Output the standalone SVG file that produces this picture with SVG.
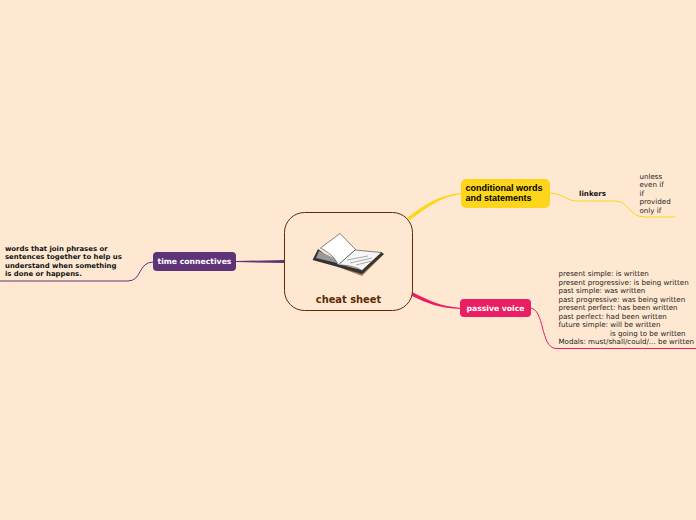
<svg xmlns="http://www.w3.org/2000/svg" width="696" height="520" viewBox="0 0 696 520">
<style>
text{font-family:"DejaVu Sans","Liberation Sans",sans-serif}
.n{font-size:7.1px;fill:#222}
.b{font-size:6.9px;font-weight:bold;fill:#111}
.t{font-size:7.700px;font-weight:bold;fill:#fff}
.y{font-family:"Liberation Sans",sans-serif;font-size:9px;font-weight:bold;fill:#000}
.c{fill:none;stroke-linecap:round}
</style>
<rect width="696" height="520" fill="#ffe8d1"/>
<g id="connectors">
<path d="M407 218C425 204 440 195 461 193L461 194C442 197 428 206 410 220Z" fill="#fdd51b"/>
<path class="c" d="M550 193C565 194 565 201 578 201L615 201C630 201 628 217 645 217L675 217" stroke="#fdd51b" stroke-width="1"/>
<path d="M412 292C430 301 440 306 461 308L461 309C440 308 428 304 412 296Z" fill="#e91e63"/>
<path class="c" d="M530 308C545 308 540 348 556 348.500L696 348.500" stroke="#e91e63" stroke-width="1"/>
<path d="M284 260L284 263L236 262L236 261Z" fill="#5e3377"/>
<path class="c" d="M153 262C138 262 142 281 128 281L0 281" stroke="#5e3377" stroke-width="1"/>
</g>
<g id="center">
<rect x="284.500" y="212.500" width="128" height="98" rx="20" fill="#ffe8d1" stroke="#5b2c06"/>
<path d="M338 267L362 276L385 253L362 273Z" fill="#a67c52"/>
<path d="M318 249L312.500 260L338 267L362 274L384 254L381 252L362 270L338 264Z" fill="#333"/>
<path d="M319 251L316 258L337 263L336 259Z" fill="#999"/>
<path d="M338 265L355 250L381.500 252.500L362 270.500C354 266 346 265 338 265Z" fill="#f6f6f6" stroke="#333" stroke-width=".6"/>
<path d="M347 260L368 256M350 263L372 258M356 265L372 261" stroke="#aaa" stroke-width="1" fill="none"/>
<path d="M320.500 248L340 233.500L355.500 249.500L338 265C335 257 328 252 320.500 248Z" fill="#fff" stroke="#333" stroke-width=".6"/>
<text x="348.500" y="303" text-anchor="middle" font-size="9.900" font-weight="bold" fill="#5b2c06">cheat sheet</text>
</g>
<g id="conditional">
<rect x="461" y="179" width="89" height="29" rx="5" fill="#fdd51b"/>
<text class="y" x="465.500" y="191">conditional words</text>
<text class="y" x="465.500" y="201">and statements</text>
</g>
<g id="linkers"><text class="b" x="579" y="196" style="font-size:7.100px">linkers</text></g>
<g id="linker-list">
<text class="n" x="639.500" y="179">unless</text>
<text class="n" x="639.500" y="187">even if</text>
<text class="n" x="639.500" y="196">if</text>
<text class="n" x="639.500" y="204">provided</text>
<text class="n" x="639.500" y="213">only if</text>
</g>
<g id="passive">
<rect x="460" y="299" width="71" height="18" rx="4" fill="#e91e63"/>
<text class="t" x="495.500" y="311" text-anchor="middle">passive voice</text>
</g>
<g id="passive-list">
<text class="n" x="558.500" y="276">present simple: is written</text>
<text class="n" x="558.500" y="285">present progressive: is being written</text>
<text class="n" x="558.500" y="293">past simple: was written</text>
<text class="n" x="558.500" y="302">past progressive: was being written</text>
<text class="n" x="558.500" y="310">present perfect: has been written</text>
<text class="n" x="558.500" y="319">past perfect: had been written</text>
<text class="n" x="558.500" y="327">future simple: will be written</text>
<text class="n" x="610" y="336">is going to be written</text>
<text class="n" x="558.500" y="344">Modals: must/shall/could/... be written</text>
</g>
<g id="time">
<rect x="153" y="252" width="83" height="19" rx="4" fill="#5e3377"/>
<text class="t" x="194.500" y="264" text-anchor="middle">time connectives</text>
</g>
<g id="definition">
<text class="b" x="5" y="251">words that join phrases or</text>
<text class="b" x="5" y="259">sentences together to help us</text>
<text class="b" x="5" y="268">understand when something</text>
<text class="b" x="5" y="276">is done or happens.</text>
</g>
</svg>
